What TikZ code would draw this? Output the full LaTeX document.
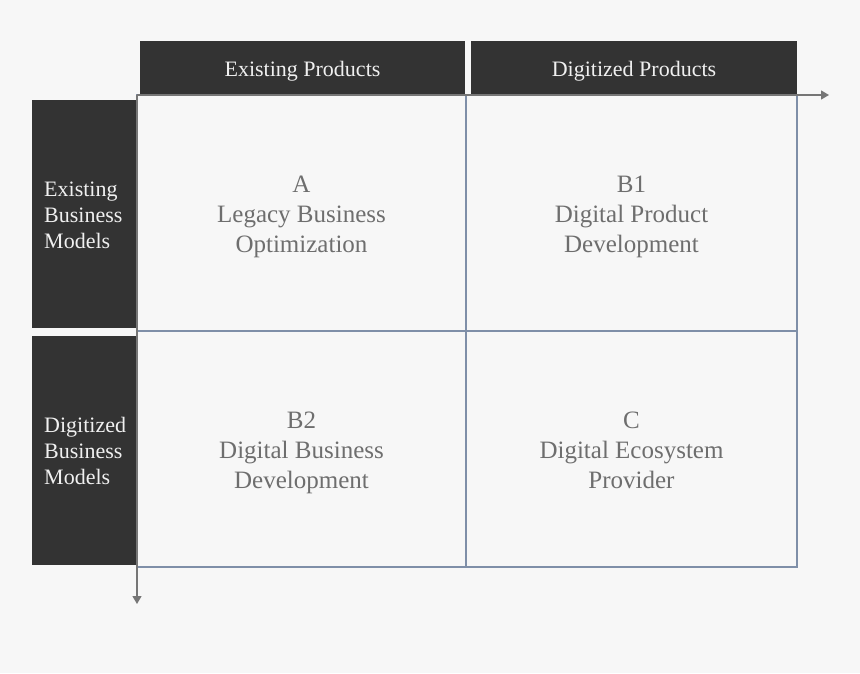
\documentclass[tikz,border=0pt]{standalone}
\usepackage{fontspec}
\setmainfont{Liberation Serif}
\usetikzlibrary{arrows.meta}
\definecolor{bgc}{HTML}{F7F7F7}
\definecolor{darkbox}{HTML}{333333}
\definecolor{gridc}{HTML}{7F8FA8}
\definecolor{celltext}{HTML}{6E6E6E}
\definecolor{axisc}{HTML}{767676}
\definecolor{hdrtext}{HTML}{F0F0F0}
\begin{document}
\begin{tikzpicture}[x=1pt,y=-1pt,
  hdrbox/.style={fill=darkbox, draw=none, minimum width=325pt, minimum height=53pt, inner sep=0pt,
    text=hdrtext, text height=20pt, text depth=2pt, font=\fontsize{22}{26}\selectfont},
  rowbox/.style={fill=darkbox, draw=none, minimum width=104pt, inner sep=0pt},
  rowtext/.style={anchor=west, align=left, text=hdrtext, inner sep=0pt, text height=70pt, text depth=2pt,
    font=\fontsize{22}{26}\selectfont},
  cellbox/.style={draw=gridc, line width=1.1pt, fill=bgc, minimum width=329pt, minimum height=236pt, inner sep=0pt},
  celltxt/.style={align=center, text=celltext, inner sep=0pt, text height=80pt, text depth=2pt,
    font=\fontsize{25}{30}\selectfont},
  axis/.style={draw=axisc, line width=1.3pt, -{Triangle[length=8pt,width=9pt]}}
]
\useasboundingbox[fill=bgc] (0,0) rectangle (860,673);
% cells
\node[cellbox] (cA) at (301.5,213) {};
\node[cellbox, minimum width=331pt] (cB1) at (631.5,213) {};
\node[cellbox] (cB2) at (301.5,449) {};
\node[cellbox, minimum width=331pt] (cC) at (631.5,449) {};
\node[celltxt] (tcA) at (cA.center) {A\\Legacy Business\\Optimization};
\node[celltxt] (tcB1) at (cB1.center) {B1\\Digital Product\\Development};
\node[celltxt] (tcB2) at (cB2.center) {B2\\Digital Business\\Development};
\node[celltxt] (tcC) at (cC.center) {C\\Digital Ecosystem\\Provider};
% column headers
\node[hdrbox] (hA) at (302.5,67.5) {Existing Products};
\node[hdrbox, minimum width=326pt] (hB) at (634,67.5) {Digitized Products};
% row headers
\node[rowbox, minimum height=228pt] (rA) at (84,214) {};
\node[rowbox, minimum height=229pt] (rB) at (84,450.5) {};
\node[rowtext] (tA) at (44,214) {Existing\\Business\\Models};
\node[rowtext] (tB) at (44,450.5) {Digitized\\Business\\Models};
% axes
\coordinate (o) at (137,95);
\coordinate (xend) at (829,95);
\coordinate (yend) at (137,604);
\draw[axis] (o) -- (xend);
\draw[axis] (o) -- (yend);
\end{tikzpicture}
\end{document}
